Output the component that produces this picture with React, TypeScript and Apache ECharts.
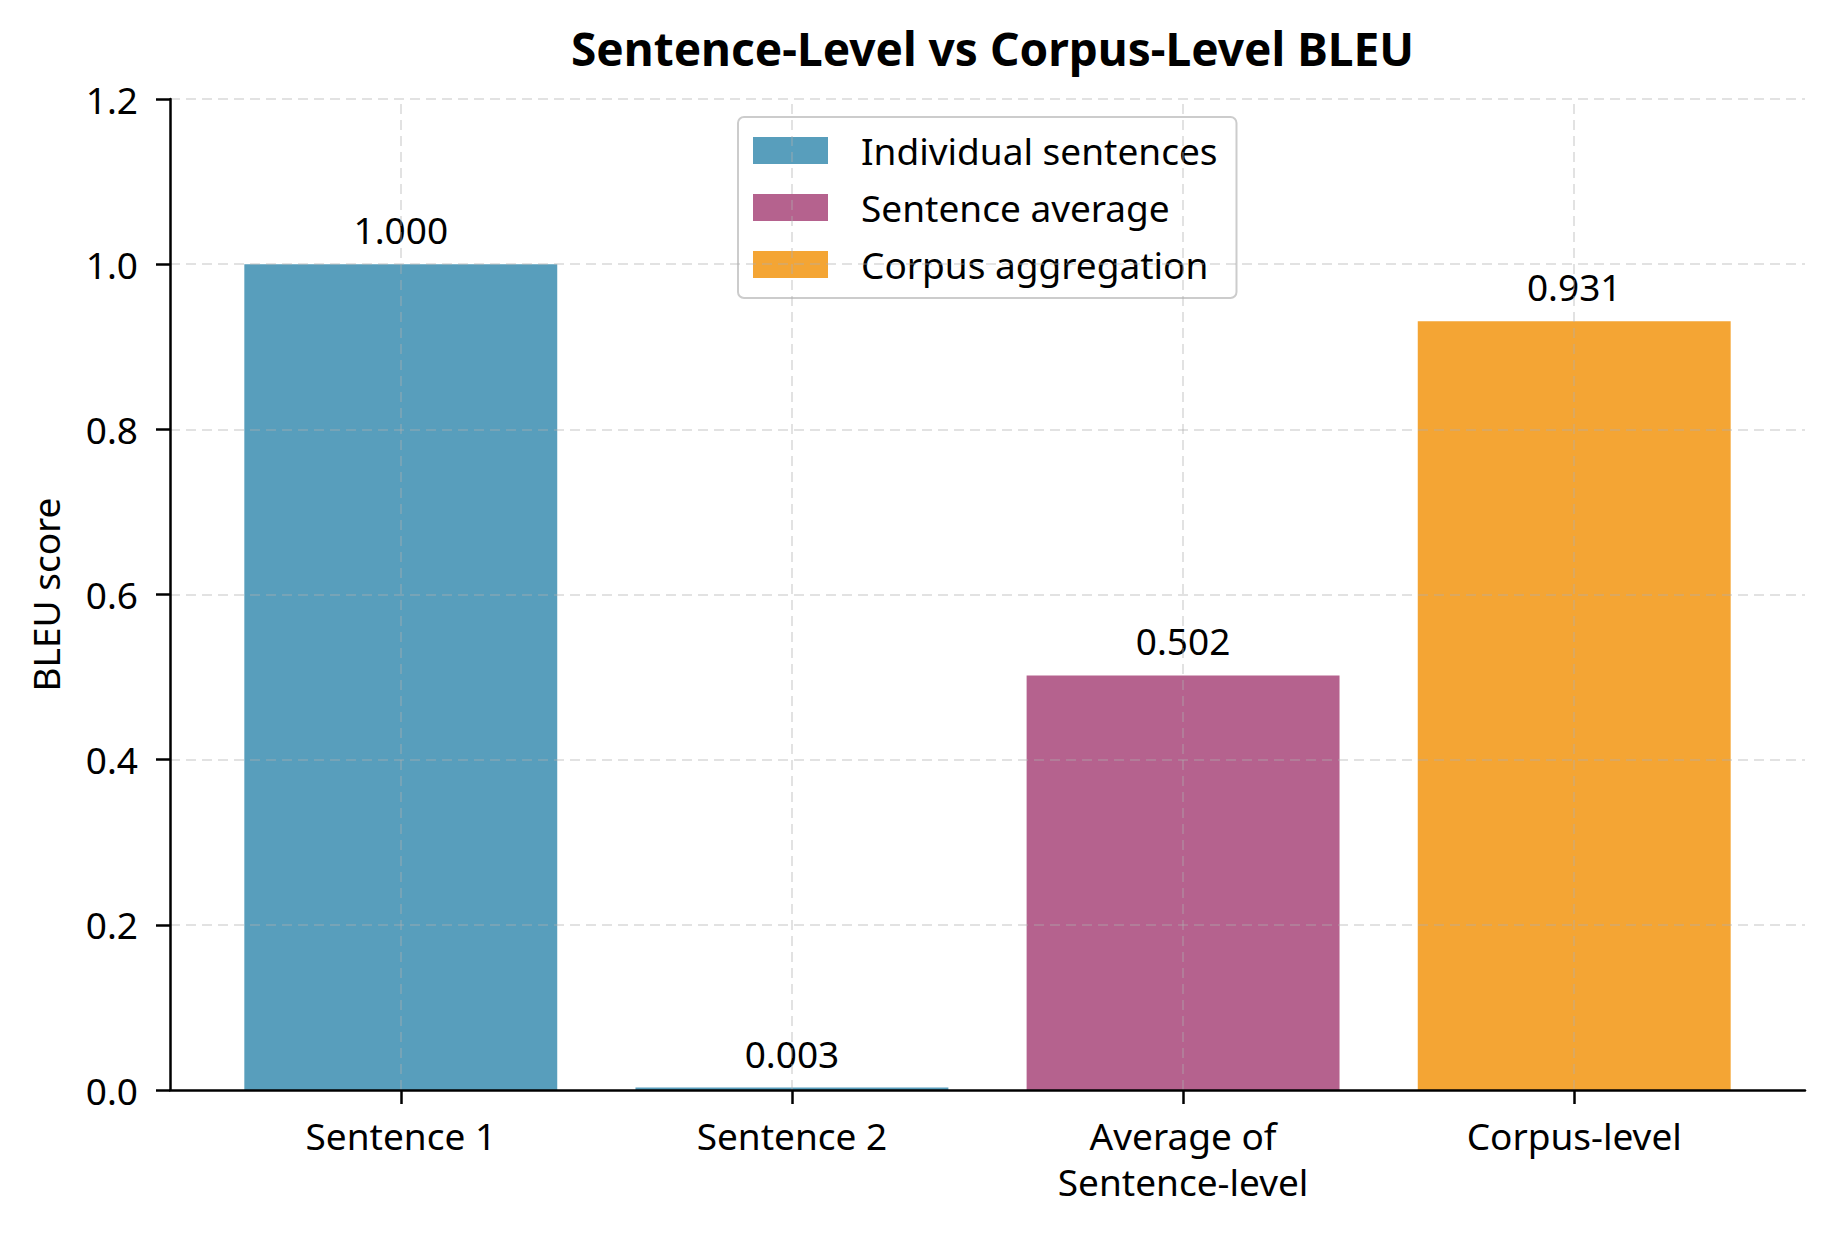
import React, { useEffect, useRef } from "react";
import * as echarts from "echarts";

const categories = ["Sentence 1", "Sentence 2", "Average of\nSentence-level", "Corpus-level"];
const seriesNames = ["Individual sentences", "Sentence average", "Corpus aggregation"];
const individualPos = [0, 1];
const individualValues = [1.0, 0.003];
const averagePos = [2];
const averageValues = [0.502];
const corpusPos = [3];
const corpusValues = [0.931];
const yGridValues = [0.2, 0.4, 0.6, 0.8, 1.0, 1.2];
const colors = ["rgba(46,134,171,0.8)", "rgba(162,59,114,0.8)", "rgba(241,143,1,0.8)"];

const FONT = "Noto Sans";
const FS = 37;
const W = 1834;
const H = 1234;
const GRID_LEFT = 170;
const GRID_RIGHT = 29;
const GRID_TOP = 99;
const GRID_BOTTOM = 144;
const X_MIN = -0.59;
const X_MAX = 3.59;

export default function App() {
  const ref = useRef<HTMLDivElement>(null);
  useEffect(() => {
    if (!ref.current) return;
    const chart = echarts.init(ref.current, null, { renderer: "svg" });
    const plotW = W - GRID_LEFT - GRID_RIGHT;
    const barW = (0.8 * plotW) / (X_MAX - X_MIN);
    const pair = (pos: number[], vals: number[]) => pos.map((p, i) => [p, vals[i]]);
    const label = {
      show: true,
      position: "top",
      distance: 16,
      color: "#000",
      fontFamily: FONT,
      fontSize: FS,
      formatter: (p: any) => Number(p.value[1]).toFixed(3),
    };
    const gridLine = { color: "rgba(176,176,176,0.36)", width: 2, type: [10, 6] };
    const mk = (name: string, pos: number[], vals: number[], color: string) => ({
      name,
      type: "bar",
      data: pair(pos, vals),
      barWidth: barW,
      barGap: "-100%",
      itemStyle: { color },
      label,
      z: 2,
    });
    chart.setOption({
      animation: false,
      backgroundColor: "#fff",
      title: {
        text: "Sentence-Level vs Corpus-Level BLEU",
        left: GRID_LEFT + plotW / 2,
        textAlign: "center",
        top: 20,
        textStyle: { fontFamily: FONT, fontWeight: "bold", fontSize: 46, color: "#000" },
      },
      legend: {
        data: seriesNames,
        orient: "vertical",
        left: 738,
        top: 117,
        itemWidth: 75,
        itemHeight: 27,
        itemGap: 20,
        icon: "rect",
        padding: [15, 19, 15, 15],
        backgroundColor: "rgba(255,255,255,0.8)",
        borderColor: "#cccccc",
        borderWidth: 2,
        borderRadius: 6,
        textStyle: { fontFamily: FONT, fontSize: FS, color: "#000", padding: [0, 0, 0, 28] },
      },
      grid: { left: GRID_LEFT, right: GRID_RIGHT, top: GRID_TOP, bottom: GRID_BOTTOM, containLabel: false },
      xAxis: {
        type: "value",
        min: X_MIN,
        max: X_MAX,
        z: 10,
        axisLine: { show: true, onZero: false, lineStyle: { color: "#000", width: 2.5 } },
        axisTick: { show: true, customValues: [0, 1, 2, 3], length: 14, lineStyle: { color: "#000", width: 2.5 } },
        axisLabel: {
          customValues: [0, 1, 2, 3],
          formatter: (v: number) => categories[Math.round(v)] ?? "",
          fontFamily: FONT,
          fontSize: FS,
          color: "#000",
          margin: 22,
          lineHeight: 46,
          align: "center",
        },
        splitLine: { show: false },
      },
      yAxis: {
        type: "value",
        min: 0,
        max: 1.2,
        interval: 0.2,
        z: 10,
        name: "BLEU score",
        nameLocation: "middle",
        nameGap: 106,
        nameTextStyle: { fontFamily: FONT, fontSize: FS, color: "#000" },
        axisLine: { show: true, onZero: false, lineStyle: { color: "#000", width: 2.5 } },
        axisTick: { show: true, length: 14, lineStyle: { color: "#000", width: 2.5 } },
        axisLabel: {
          formatter: (v: number) => v.toFixed(1),
          fontFamily: FONT,
          fontSize: FS,
          color: "#000",
          margin: 32,
        },
        splitLine: { show: false },
      },
      series: [
        mk(seriesNames[0], individualPos, individualValues, colors[0]),
        mk(seriesNames[1], averagePos, averageValues, colors[1]),
        mk(seriesNames[2], corpusPos, corpusValues, colors[2]),
        {
          name: "grid",
          type: "line",
          data: [],
          z: 5,
          silent: true,
          markLine: {
            silent: true,
            symbol: "none",
            label: { show: false },
            lineStyle: gridLine,
            data: [
              ...[0, 1, 2, 3].map((x) => ({ xAxis: x })),
              ...yGridValues.map((y) => ({ yAxis: y })),
            ],
          },
        },
      ],
    });
    return () => chart.dispose();
  }, []);
  return <div ref={ref} style={{ position: "fixed", left: 0, top: 0, width: W, height: H }} />;
}
